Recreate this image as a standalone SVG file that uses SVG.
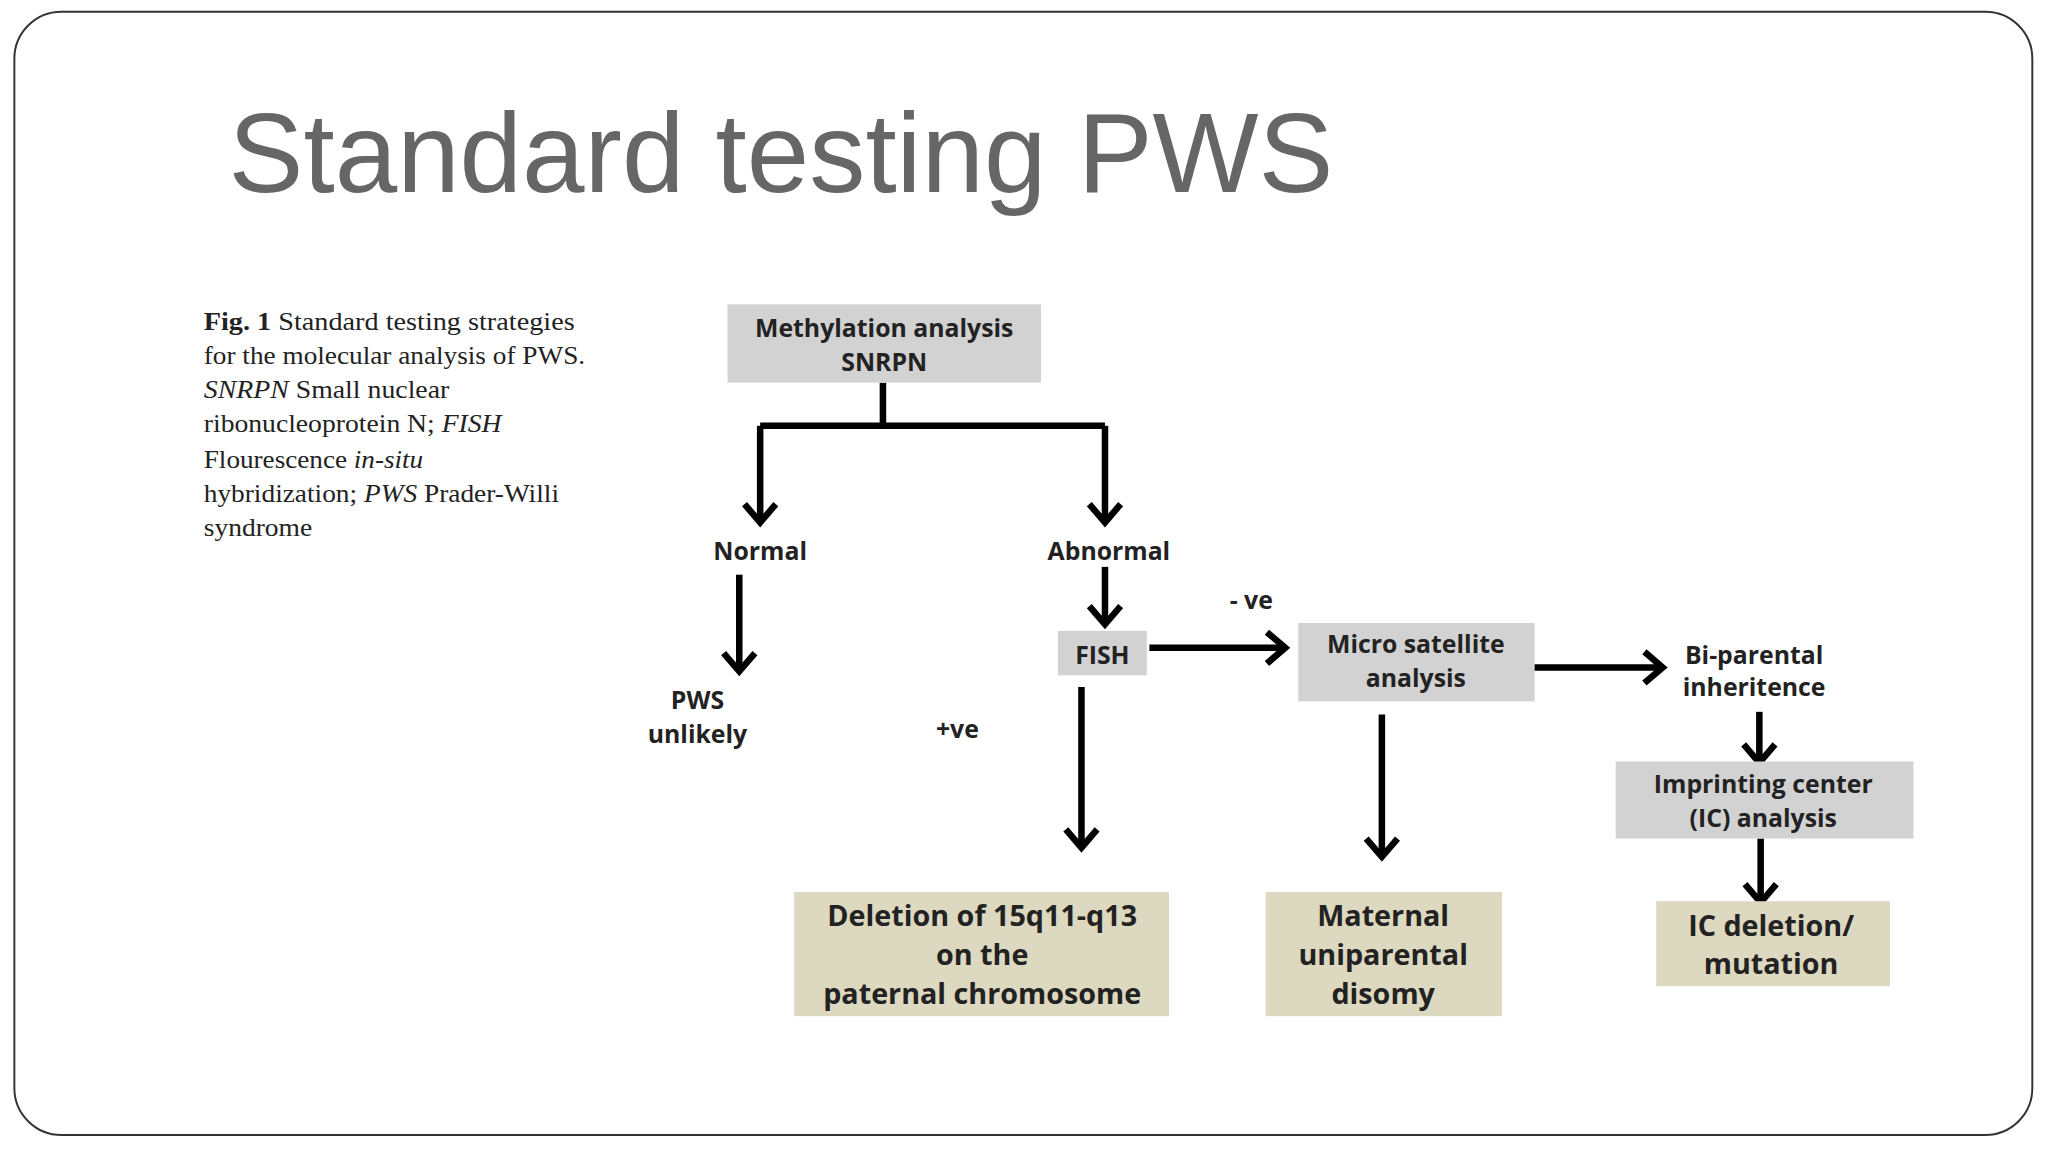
<svg xmlns="http://www.w3.org/2000/svg" width="2048" height="1152" viewBox="0 0 2048 1152">
<defs>
<style>
.t{font-family:"Open Sans","DejaVu Sans",sans-serif;font-weight:bold;fill:#222;text-anchor:middle}
.s{font-size:19px}
.b{font-size:22px}
.c{font-family:"Liberation Serif",serif;font-size:20px;fill:#222}
.e{stroke:#000;stroke-width:5;fill:none}
.gb{fill:#d2d2d2}
.tb{fill:#ddd8c0}
</style>
<marker id="a" markerUnits="userSpaceOnUse" markerWidth="40" markerHeight="40" refX="18" refY="14" orient="auto" viewBox="0 0 40 40">
<path d="M4,2 L18,14 L4,26" fill="none" stroke="#000" stroke-width="5"/>
</marker>
</defs>
<rect width="2048" height="1152" fill="#fff"/>
<g transform="scale(1.30612)">
<rect x="11" y="9" width="1545" height="860" rx="36" fill="none" stroke="#333" stroke-width="1.5"/>
<text x="175" y="147" font-family="Liberation Sans,Arial,sans-serif" font-size="86" fill="#666">Standard testing PWS</text>
<g id="caption" class="c">
<text x="156" y="253" textLength="284" lengthAdjust="spacingAndGlyphs"><tspan font-weight="bold">Fig. 1</tspan>   Standard testing strategies</text>
<text x="156" y="279" textLength="292" lengthAdjust="spacingAndGlyphs">for the molecular analysis of PWS.</text>
<text x="156" y="305" textLength="188" lengthAdjust="spacingAndGlyphs"><tspan font-style="italic">SNRPN</tspan> Small nuclear</text>
<text x="156" y="331" textLength="228" lengthAdjust="spacingAndGlyphs">ribonucleoprotein N; <tspan font-style="italic">FISH</tspan></text>
<text x="156" y="358" textLength="168" lengthAdjust="spacingAndGlyphs">Flourescence <tspan font-style="italic">in-situ</tspan></text>
<text x="156" y="384" textLength="272" lengthAdjust="spacingAndGlyphs">hybridization; <tspan font-style="italic">PWS</tspan> Prader-Willi</text>
<text x="156" y="410" textLength="83" lengthAdjust="spacingAndGlyphs">syndrome</text>
</g>
<g id="connectors" class="e">
<path d="M676,293 V326 M582,326 H846"/>
<path d="M582,326 V400" marker-end="url(#a)"/>
<path d="M846,326 V400" marker-end="url(#a)"/>
<path d="M566,440 V514" marker-end="url(#a)"/>
<path d="M846,434 V478" marker-end="url(#a)"/>
<path d="M880,496 H984" marker-end="url(#a)"/>
<path d="M1168,511 H1273" marker-end="url(#a)"/>
<path d="M1347,545 V584" marker-end="url(#a)"/>
<path d="M1348,642 V691" marker-end="url(#a)"/>
<path d="M828,526 V649" marker-end="url(#a)"/>
<path d="M1058,547 V656" marker-end="url(#a)"/>
</g>
<g id="methylation"><rect class="gb" x="557" y="233" width="240" height="60"/><text class="t s" x="677" y="258">Methylation analysis</text><text class="t s" x="677" y="284">SNRPN</text></g>
<g id="normal"><text class="t s" x="582" y="429">Normal</text></g>
<g id="abnormal"><text class="t s" x="849" y="429">Abnormal</text></g>
<g id="pws-unlikely"><text class="t s" x="534" y="543">PWS</text><text class="t s" x="534" y="569">unlikely</text></g>
<g id="fish"><rect class="gb" x="810" y="483" width="68" height="34"/><text class="t s" x="844" y="508">FISH</text></g>
<g id="neg"><text class="t s" x="958" y="466">- ve</text></g>
<g id="pos"><text class="t s" x="733" y="565">+ve</text></g>
<g id="micro"><rect class="gb" x="994" y="477" width="181" height="60"/><text class="t s" x="1084" y="500">Micro satellite</text><text class="t s" x="1084" y="526">analysis</text></g>
<g id="biparental"><text class="t s" x="1343" y="508">Bi-parental</text><text class="t s" x="1343" y="533">inheritence</text></g>
<g id="imprinting"><rect class="gb" x="1237" y="583" width="228" height="59"/><text class="t s" x="1350" y="607">Imprinting center</text><text class="t s" x="1350" y="633">(IC) analysis</text></g>
<g id="ic-deletion"><rect class="tb" x="1268" y="690" width="179" height="65"/><text class="t b" x="1356" y="717">IC deletion/</text><text class="t b" x="1356" y="746">mutation</text></g>
<g id="deletion"><rect class="tb" x="608" y="683" width="287" height="95"/><text class="t b" x="752" y="709">Deletion of 15q11-q13</text><text class="t b" x="752" y="739">on the</text><text class="t b" x="752" y="769">paternal chromosome</text></g>
<g id="maternal"><rect class="tb" x="969" y="683" width="181" height="95"/><text class="t b" x="1059" y="709">Maternal</text><text class="t b" x="1059" y="739">uniparental</text><text class="t b" x="1059" y="769">disomy</text></g>
</g>
</svg>
